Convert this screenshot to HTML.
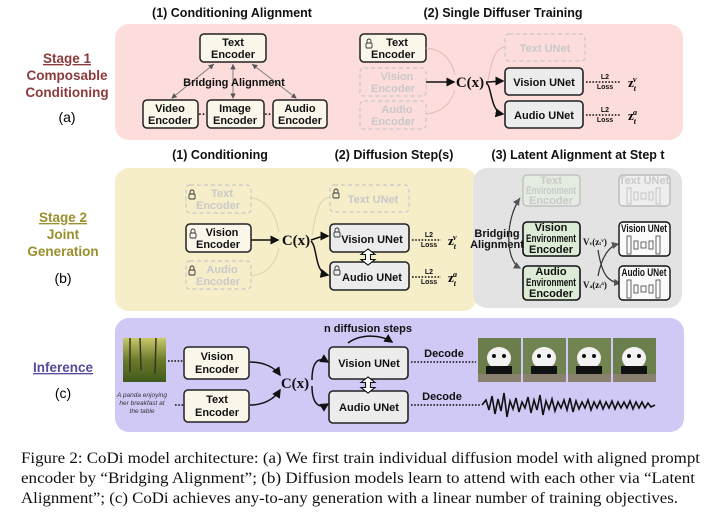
<!DOCTYPE html>
<html><head><meta charset="utf-8"><style>
body{margin:0;background:#fff}
svg{display:block}
.b{font-family:"Liberation Sans",sans-serif;font-weight:bold;font-size:11px;text-anchor:middle;fill:#111}
.f{fill:#c9c9c9}
.t{font-family:"Liberation Sans",sans-serif;font-weight:bold;font-size:12.5px;text-anchor:middle;fill:#111}
.m{font-family:"Liberation Serif",serif;font-weight:bold;font-size:15px;text-anchor:middle;fill:#111}
.s{font-family:"Liberation Sans",sans-serif;font-weight:bold;font-size:7px;text-anchor:middle;fill:#111}
.cap{font-family:"Liberation Serif",serif;font-size:15.5px;fill:#111}
</style></head><body>
<svg width="720" height="512" viewBox="0 0 720 512" xmlns="http://www.w3.org/2000/svg">
<defs>
<marker id="a" markerWidth="6" markerHeight="6" refX="5" refY="3" orient="auto"><path d="M0,0 L6,3 L0,6z" fill="#111"/></marker>
<marker id="ag" markerWidth="6" markerHeight="6" refX="5" refY="3" orient="auto"><path d="M0,0 L6,3 L0,6z" fill="#555"/></marker>
<marker id="as" markerWidth="6" markerHeight="6" refX="0" refY="3" orient="auto"><path d="M6,0 L0,3 L6,6z" fill="#555"/></marker>
<g id="lock"><rect x="-3" y="-1" width="6" height="5" rx="1" fill="none" stroke="#333" stroke-width="0.9"/><path d="M-2,-1 V-3 A2,2 0 0 1 2,-3 V-1" fill="none" stroke="#333" stroke-width="0.9"/></g>
</defs>

<text class="t" x="232" y="17">(1) Conditioning Alignment</text>
<text class="t" x="503" y="17">(2) Single Diffuser Training</text>

<rect x="115" y="24" width="568" height="116" rx="14" fill="#fddcdc"/>
<g font-family="Liberation Sans,sans-serif" font-weight="bold" font-size="13.5" text-anchor="middle" fill="#8b3b3b">
<text x="67" y="63" text-decoration="underline">Stage 1</text>
<text x="67" y="80">Composable</text>
<text x="67" y="97">Conditioning</text>
</g>
<text x="67" y="122" font-family="Liberation Sans,sans-serif" font-size="14" text-anchor="middle">(a)</text>

<rect x="200" y="34" width="66" height="28" rx="4" fill="#faf6ea" stroke="#222" stroke-width="1.5"/>
<text class="b" x="233" y="46">Text</text><text class="b" x="233" y="58">Encoder</text>
<g stroke="#777" stroke-width="0.9" marker-end="url(#ag)" marker-start="url(#as)">
<line x1="214" y1="64" x2="172" y2="98"/>
<line x1="233" y1="64" x2="233" y2="98"/>
<line x1="252" y1="64" x2="296" y2="98"/>
</g>
<text class="b" x="234" y="86" font-size="11.5">Bridging Alignment</text>
<rect x="143" y="100" width="55" height="28" rx="4" fill="#faf6ea" stroke="#222" stroke-width="1.5"/>
<text class="b" x="170" y="112">Video</text><text class="b" x="170" y="124">Encoder</text>
<rect x="207" y="100" width="57" height="28" rx="4" fill="#faf6ea" stroke="#222" stroke-width="1.5"/>
<text class="b" x="235" y="112">Image</text><text class="b" x="235" y="124">Encoder</text>
<rect x="273" y="100" width="54" height="28" rx="4" fill="#faf6ea" stroke="#222" stroke-width="1.5"/>
<text class="b" x="300" y="112">Audio</text><text class="b" x="300" y="124">Encoder</text>
<text class="b" x="202" y="118">··</text><text class="b" x="268" y="118">··</text>

<rect x="360" y="34" width="66" height="28" rx="4" fill="#faf6ea" stroke="#222" stroke-width="1.5"/>
<use href="#lock" x="369" y="44"/>
<text class="b" x="397" y="46">Text</text><text class="b" x="393" y="58">Encoder</text>
<g fill="none" stroke="#c8c8c8" stroke-width="1.2" stroke-dasharray="4,3">
<rect x="360" y="68" width="66" height="28" rx="4"/><rect x="360" y="101" width="66" height="28" rx="4"/>
<rect x="505" y="34" width="80" height="27" rx="4"/>
</g>
<text class="b f" x="397" y="80">Vision</text><text class="b f" x="393" y="92">Encoder</text>
<text class="b f" x="397" y="113">Audio</text><text class="b f" x="393" y="125">Encoder</text>
<text class="b f" x="545" y="52" font-size="12">Text UNet</text>
<g fill="none" stroke="#e9b8b8" stroke-width="1"><path d="M426,48 C445,50 452,62 455,75"/><path d="M426,114 C445,112 452,100 455,90"/><path d="M488,80 C492,60 495,48 505,47"/></g>
<line x1="426" y1="82" x2="454" y2="82" stroke="#111" stroke-width="1.5" marker-end="url(#a)"/>
<text class="m" x="470" y="87">C(x)</text>
<g fill="none" stroke="#111" stroke-width="1.5" marker-end="url(#a)"><path d="M486,82 C495,82 495,81 503,81"/><path d="M486,83 C492,85 490,112 503,114"/></g>
<rect x="505" y="68" width="78" height="27" rx="4" fill="#ececec" stroke="#222" stroke-width="1.6"/>
<text class="b" x="544" y="86" font-size="12">Vision UNet</text>
<rect x="505" y="101" width="78" height="27" rx="4" fill="#ececec" stroke="#222" stroke-width="1.6"/>
<text class="b" x="544" y="119" font-size="12">Audio UNet</text>
<g stroke="#111" stroke-width="1.6" stroke-dasharray="1.6,1.6"><line x1="586" y1="82" x2="621" y2="82"/><line x1="586" y1="115" x2="621" y2="115"/></g>
<text class="s" x="605" y="79">L2</text><text class="s" x="605" y="89">Loss</text>
<text class="s" x="605" y="112">L2</text><text class="s" x="605" y="122">Loss</text>
<text x="628" y="87" font-family="Liberation Serif,serif" font-weight="bold" font-size="13">z<tspan font-size="8" font-style="italic" dy="4">t</tspan><tspan font-size="8" font-style="italic" dx="-3" dy="-9">v</tspan></text>
<text x="628" y="120" font-family="Liberation Serif,serif" font-weight="bold" font-size="13">z<tspan font-size="8" font-style="italic" dy="4">t</tspan><tspan font-size="8" font-style="italic" dx="-3" dy="-9">a</tspan></text>

<text class="t" x="220" y="159">(1) Conditioning</text>
<text class="t" x="394" y="159">(2) Diffusion Step(s)</text>
<text class="t" x="578" y="159">(3) Latent Alignment at Step t</text>
<rect x="115" y="168" width="362" height="143" rx="14" fill="#f6edc9"/>
<rect x="473" y="168" width="209" height="140" rx="14" fill="#e3e3e3"/>
<g font-family="Liberation Sans,sans-serif" font-weight="bold" font-size="13.5" text-anchor="middle" fill="#9a8f2c">
<text x="63" y="222" text-decoration="underline">Stage 2</text>
<text x="63" y="239">Joint</text>
<text x="63" y="256">Generation</text>
</g>
<text x="63" y="283" font-family="Liberation Sans,sans-serif" font-size="14" text-anchor="middle">(b)</text>

<g fill="none" stroke="#c8c8c8" stroke-width="1.2" stroke-dasharray="4,3">
<rect x="186" y="185" width="65" height="28" rx="4"/><rect x="186" y="261" width="65" height="28" rx="4"/>
<rect x="330" y="185" width="79" height="27" rx="4"/>
</g>
<use href="#lock" x="192" y="195"/><use href="#lock" x="192" y="271"/><use href="#lock" x="336" y="194"/>
<text class="b f" x="222" y="197">Text</text><text class="b f" x="218" y="209">Encoder</text>
<text class="b f" x="222" y="273">Audio</text><text class="b f" x="218" y="285">Encoder</text>
<text class="b f" x="373" y="203" font-size="12">Text UNet</text>
<rect x="186" y="224" width="65" height="28" rx="4" fill="#faf6ea" stroke="#222" stroke-width="1.5"/>
<use href="#lock" x="193" y="234"/>
<text class="b" x="222" y="236">Vision</text><text class="b" x="218" y="248">Encoder</text>
<g fill="none" stroke="#ddd2a8" stroke-width="1"><path d="M251,198 C268,200 276,215 279,232"/><path d="M251,276 C268,274 276,262 279,248"/><path d="M312,235 C316,210 320,198 330,197"/></g>
<line x1="251" y1="240" x2="278" y2="240" stroke="#111" stroke-width="1.5" marker-end="url(#a)"/>
<text class="m" x="296" y="245">C(x)</text>
<g fill="none" stroke="#111" stroke-width="1.5" marker-end="url(#a)"><path d="M311,240 C318,238 320,236 328,236"/><path d="M311,241 C318,248 314,272 328,275"/></g>
<rect x="330" y="224" width="79" height="28" rx="4" fill="#ececec" stroke="#222" stroke-width="1.6"/>
<use href="#lock" x="337" y="233"/><text class="b" x="372" y="243" font-size="12">Vision UNet</text>
<rect x="330" y="262" width="79" height="28" rx="4" fill="#ececec" stroke="#222" stroke-width="1.6"/>
<use href="#lock" x="337" y="271"/><text class="b" x="372" y="281" font-size="12">Audio UNet</text>
<path d="M368,249 L361,254.5 H365.5 V259.5 H361 L368,265 L375,259.5 H370.5 V254.5 H375 Z" fill="#fff" stroke="#111" stroke-width="1.1"/>
<g stroke="#111" stroke-width="1.6" stroke-dasharray="1.6,1.6"><line x1="412" y1="240" x2="441" y2="240"/><line x1="412" y1="277" x2="441" y2="277"/></g>
<text class="s" x="429" y="237">L2</text><text class="s" x="429" y="247">Loss</text>
<text class="s" x="429" y="274">L2</text><text class="s" x="429" y="284">Loss</text>
<text x="448" y="245" font-family="Liberation Serif,serif" font-weight="bold" font-size="13">z<tspan font-size="8" font-style="italic" dy="4">t</tspan><tspan font-size="8" font-style="italic" dx="-3" dy="-9">v</tspan></text>
<text x="448" y="282" font-family="Liberation Serif,serif" font-weight="bold" font-size="13">z<tspan font-size="8" font-style="italic" dy="4">t</tspan><tspan font-size="8" font-style="italic" dx="-3" dy="-9">a</tspan></text>

<rect x="523" y="175" width="57" height="31" rx="4" fill="#e4ece1" stroke="#bbb" stroke-width="1.2"/>
<text class="b f" x="551" y="184" font-size="8">Text</text><text class="b f" x="551" y="194" font-size="8" textLength="50" lengthAdjust="spacingAndGlyphs">Environment</text><text class="b f" x="551" y="204" font-size="8">Encoder</text>
<rect x="523" y="222" width="57" height="34" rx="4" fill="#dcebd6" stroke="#111" stroke-width="1.6"/>
<text class="b" x="551" y="231" font-size="8">Vision</text><text class="b" x="551" y="242" font-size="8" textLength="50" lengthAdjust="spacingAndGlyphs">Environment</text><text class="b" x="551" y="253" font-size="8">Encoder</text>
<rect x="523" y="266" width="57" height="34" rx="4" fill="#dcebd6" stroke="#111" stroke-width="1.6"/>
<text class="b" x="551" y="275" font-size="8">Audio</text><text class="b" x="551" y="286" font-size="8" textLength="50" lengthAdjust="spacingAndGlyphs">Environment</text><text class="b" x="551" y="297" font-size="8">Encoder</text>
<text class="b" x="497" y="237" font-size="9.5">Bridging</text><text class="b" x="497" y="248" font-size="9.5">Alignment</text>
<path d="M520,198 C505,220 505,260 520,268" fill="none" stroke="#333" stroke-width="1.2" marker-end="url(#ag)" marker-start="url(#as)"/>
<g font-family="Liberation Serif,serif" font-weight="bold" font-size="9" fill="#111"><text x="583" y="245">V<tspan font-size="5.5">v</tspan>(z<tspan font-size="5.5">t</tspan><tspan font-size="5.5" dy="-3">v</tspan><tspan dy="3">)</tspan></text>
<text x="583" y="288">V<tspan font-size="5.5">a</tspan>(z<tspan font-size="5.5">t</tspan><tspan font-size="5.5" dy="-3">a</tspan><tspan dy="3">)</tspan></text></g>
<g fill="none" stroke="#333" stroke-width="1.2" marker-end="url(#ag)"><path d="M598,250 C602,275 608,282 620,283"/><path d="M598,276 C602,255 610,246 618,244"/></g>
<g fill="none" stroke-width="1.4">
<rect x="619" y="175" width="51" height="31" rx="4" stroke="#bbb" fill="#eee"/>
<rect x="619" y="222" width="51" height="34" rx="4" stroke="#111" fill="#fafafa"/>
<rect x="619" y="266" width="51" height="34" rx="4" stroke="#111" fill="#fafafa"/>
</g>
<text class="b f" x="644" y="184" font-size="7.5">Text UNet</text>
<text class="b" x="644" y="232" font-size="8" textLength="46" lengthAdjust="spacingAndGlyphs">Vision UNet</text>
<text class="b" x="644" y="276" font-size="8" textLength="45" lengthAdjust="spacingAndGlyphs">Audio UNet</text>
<g fill="none" stroke-width="0.8">
<g stroke="#bbb"><rect x="627" y="188" width="4" height="16"/><rect x="634" y="192" width="4" height="8"/><rect x="641" y="193" width="5" height="6"/><rect x="649" y="192" width="4" height="8"/><rect x="656" y="188" width="4" height="16"/></g>
<g stroke="#444"><rect x="627" y="236" width="4" height="18"/><rect x="634" y="241" width="4" height="8"/><rect x="641" y="242" width="5" height="6"/><rect x="649" y="241" width="4" height="8"/><rect x="656" y="236" width="4" height="18"/></g>
<g stroke="#444"><rect x="627" y="280" width="4" height="18"/><rect x="634" y="285" width="4" height="8"/><rect x="641" y="286" width="5" height="6"/><rect x="649" y="285" width="4" height="8"/><rect x="656" y="280" width="4" height="18"/></g>
</g>

<rect x="115" y="318" width="569" height="114" rx="14" fill="#d0c9f6"/>
<text x="63" y="372" font-family="Liberation Sans,sans-serif" font-weight="bold" font-size="13.5" text-anchor="middle" fill="#5a4a9a" text-decoration="underline">Inference</text>
<text x="63" y="398" font-family="Liberation Sans,sans-serif" font-size="14" text-anchor="middle">(c)</text>
<defs><linearGradient id="fr" x1="0" y1="0" x2="0" y2="1"><stop offset="0" stop-color="#c9c86a"/><stop offset="0.5" stop-color="#6b7a2c"/><stop offset="1" stop-color="#3f5a1c"/></linearGradient></defs>
<rect x="123" y="338" width="43" height="44" fill="url(#fr)"/>
<g stroke="#3a3520" stroke-width="1.5"><line x1="130" y1="338" x2="130" y2="372"/><line x1="140" y1="338" x2="141" y2="370"/><line x1="156" y1="338" x2="155" y2="374"/></g>
<g font-family="Liberation Sans,sans-serif" font-style="italic" font-size="6.5" text-anchor="middle" fill="#333"><text x="142" y="397">A panda enjoying</text><text x="142" y="405">her breakfast at</text><text x="142" y="413">the table</text></g>
<g stroke="#111" stroke-width="1.6" stroke-dasharray="1.6,1.6"><line x1="168" y1="361" x2="184" y2="361"/><line x1="175" y1="405" x2="184" y2="405"/>
<line x1="411" y1="362" x2="476" y2="362"/><line x1="411" y1="405" x2="480" y2="405"/></g>
<rect x="184" y="347" width="65" height="32" rx="4" fill="#faf6ea" stroke="#222" stroke-width="1.5"/>
<text class="b" x="217" y="360">Vision</text><text class="b" x="217" y="373">Encoder</text>
<rect x="184" y="390" width="65" height="32" rx="4" fill="#faf6ea" stroke="#222" stroke-width="1.5"/>
<text class="b" x="217" y="403">Text</text><text class="b" x="217" y="416">Encoder</text>
<g fill="none" stroke="#111" stroke-width="1.5" marker-end="url(#a)"><path d="M250,362 C265,362 275,368 280,375"/><path d="M250,405 C265,405 275,398 280,390"/>
<path d="M312,380 C312,362 318,356 328,362"/><path d="M312,386 C312,402 318,410 328,404"/><path d="M348,343 C360,334 380,334 392,342"/></g>
<text class="m" x="295" y="388">C(x)</text>
<text class="b" x="368" y="332" font-size="10">n diffusion steps</text>
<rect x="329" y="347" width="79" height="32" rx="4" fill="#ececec" stroke="#222" stroke-width="1.6"/>
<text class="b" x="369" y="367" font-size="12">Vision UNet</text>
<rect x="329" y="391" width="79" height="32" rx="4" fill="#ececec" stroke="#222" stroke-width="1.6"/>
<text class="b" x="369" y="411" font-size="12">Audio UNet</text>
<path d="M368,377 L361,382.5 H365.5 V387.5 H361 L368,393 L375,387.5 H370.5 V382.5 H375 Z" fill="#fff" stroke="#111" stroke-width="1.1"/>
<text class="b" x="444" y="357" font-size="9.5">Decode</text>
<text class="b" x="442" y="400" font-size="9.5">Decode</text>
<g>
<rect x="478" y="338" width="43" height="44" fill="#6a7d4a"/><rect x="523" y="338" width="43" height="44" fill="#6f8450"/><rect x="568" y="338" width="43" height="44" fill="#728550"/><rect x="613" y="338" width="43" height="44" fill="#6b7f4d"/>
<g fill="#f2f2f2"><ellipse cx="499" cy="358" rx="12" ry="11"/><ellipse cx="544" cy="358" rx="12" ry="11"/><ellipse cx="589" cy="358" rx="12" ry="11"/><ellipse cx="634" cy="358" rx="12" ry="11"/></g>
<g fill="#111"><rect x="486" y="366" width="26" height="9"/><rect x="531" y="366" width="26" height="9"/><rect x="576" y="366" width="26" height="9"/><rect x="621" y="366" width="26" height="9"/>
<circle cx="494" cy="356" r="2"/><circle cx="504" cy="356" r="2"/><circle cx="539" cy="356" r="2"/><circle cx="549" cy="356" r="2"/><circle cx="584" cy="356" r="2"/><circle cx="594" cy="356" r="2"/><circle cx="629" cy="356" r="2"/><circle cx="639" cy="356" r="2"/></g>
<g fill="#8a8070"><rect x="478" y="374" width="43" height="8"/><rect x="523" y="374" width="43" height="8"/><rect x="568" y="374" width="43" height="8"/><rect x="613" y="374" width="43" height="8"/></g>
</g>
<path d="M482,405 L486,400 L489,410 L492,396 L495,414 L498,399 L501,411 L504,393 L507,417 L510,401 L513,409 L516,398 L519,412 L522,402 L525,408 L528,397 L531,413 L534,400 L537,410 L540,395 L543,415 L546,401 L549,409 L552,399 L555,411 L558,402 L561,408 L564,400 L567,410 L570,398 L573,412 L576,401 L579,409 L582,402 L585,408 L588,400 L591,410 L594,402 L597,408 L600,401 L603,409 L606,402 L609,408 L612,401 L615,409 L618,402 L621,408 L624,402 L627,408 L630,401 L633,409 L636,402 L639,408 L642,402 L645,408 L648,403 L651,407 L655,405" fill="none" stroke="#111" stroke-width="1.6"/>

<text class="cap" x="21" y="463" textLength="679" lengthAdjust="spacingAndGlyphs">Figure 2: CoDi model architecture: (a) We first train individual diffusion model with aligned prompt</text>
<text class="cap" x="21" y="483" textLength="674" lengthAdjust="spacingAndGlyphs">encoder by “Bridging Alignment”; (b) Diffusion models learn to attend with each other via “Latent</text>
<text class="cap" x="21" y="503" textLength="657" lengthAdjust="spacingAndGlyphs">Alignment”; (c) CoDi achieves any-to-any generation with a linear number of training objectives.</text>
</svg>
</body></html>
